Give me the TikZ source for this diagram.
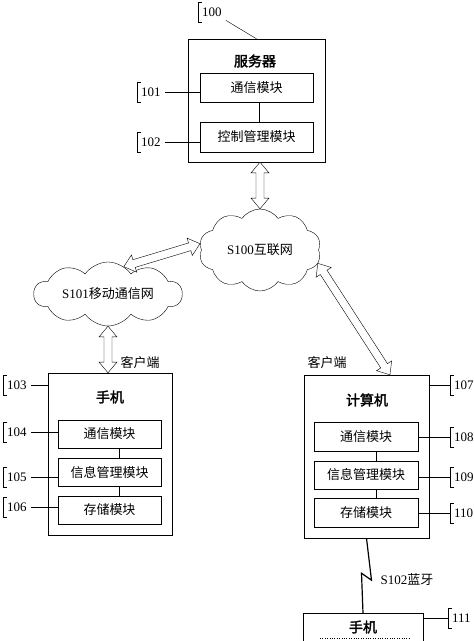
\documentclass[tikz,border=0pt]{standalone}
\usepackage{fontspec}
\setmainfont{Liberation Serif}
\newfontfamily\cjk{Noto Sans CJK SC}
\newfontfamily\cjkbold[FakeBold=2]{Noto Sans CJK SC}
\usetikzlibrary{shapes.symbols,shapes.arrows,calc}
\begin{document}
\begin{tikzpicture}[
            x=1pt, y=1pt,
            every node/.style={font=\fontsize{13}{15}\selectfont},
            cn/.style={font=\fontsize{13}{15}\selectfont\cjk},
            box/.style={draw, cn, minimum width=103pt, minimum height=28pt},
            outer/.style={draw, inner sep=0},
            boxtitle/.style={font=\fontsize{14}{16}\selectfont\cjkbold},
            tag/.style={inner xsep=4pt, inner ysep=1pt, minimum height=20pt, anchor=west},
            net/.style={cloud, draw, cloud puffs=10, cloud puff arc=110, cloud ignores aspect, inner sep=0},
            bolt/.style={line width=1.2pt, line join=miter},
            dbl/.style={to path={let \p1=($(\tikztotarget)-(\tikztostart)$),
                \n1={veclen(\x1,\y1)}, \n2={atan2(\y1,\x1)} in
                node[double arrow, draw, fill=white, inner sep=3.8pt,
                     double arrow head extend=5pt, double arrow tip angle=80,
                     minimum height=\n1, rotate=\n2]
                at ($(\tikztostart)!0.5!(\tikztotarget)$) {}}},
            ]
            \useasboundingbox (0,0) rectangle (474,-641);
            % server
            \node[outer, minimum width=137pt, minimum height=123pt] (srv) at (256.5,-100.5) {};
            \node[boxtitle] (srvt) at (255,-61) {服务器};
            \node[box, minimum width=113pt, minimum height=29pt] (srv1) at (256.5,-87.5) {通信模块};
            \node[box, minimum width=113pt, minimum height=30pt] (srv2) at (256.5,-137) {控制管理模块};
            \draw ([xshift=2.5pt]srv1.south) -- ([xshift=2.5pt]srv2.north);
            % clouds
            \node[net, minimum width=122pt, minimum height=82pt] (inet) at (260,-250) {S100{\cjk 互联网}};
            \node[net, minimum width=148pt, minimum height=64pt] (mob) at (108,-294) {S101{\cjk 移动通信网}};
            % phone
            \node[outer, minimum width=124pt, minimum height=162pt] (tel) at (110,-454) {};
            \node[boxtitle] (telt) at (110,-397) {手机};
            \node[box] (tel1) at (109.5,-434) {通信模块};
            \node[box] (tel2) at (109.5,-472.5) {信息管理模块};
            \node[box] (tel3) at (109.5,-510) {存储模块};
            \draw ([xshift=9.5pt]tel1.south) -- ([xshift=9.5pt]tel2.north);
            \draw ([xshift=9.5pt]tel2.south) -- ([xshift=9.5pt]tel3.north);
            \node[cn] (telc) at (140,-363) {客户端};
            % computer
            \node[outer, minimum width=125pt, minimum height=163pt] (pc) at (366.5,-456.5) {};
            \node[boxtitle] (pct) at (367,-400) {计算机};
            \node[box, minimum width=104pt, minimum height=29pt] (pc1) at (366,-436.5) {通信模块};
            \node[box, minimum width=104pt] (pc2) at (366,-475) {信息管理模块};
            \node[box, minimum width=104pt, minimum height=29pt] (pc3) at (366,-512.5) {存储模块};
            \draw ([xshift=10pt]pc1.south) -- ([xshift=10pt]pc2.north);
            \draw ([xshift=10pt]pc2.south) -- ([xshift=10pt]pc3.north);
            \node[cn] (pcc) at (327,-363) {客户端};
            % second phone
            \node[outer, minimum width=120pt, minimum height=60pt, anchor=north] (bt) at (363,-613) {};
            \node[boxtitle] (btt) at (363,-627) {手机};
            \draw[dotted] (320,-638) -- (410,-638);
            \draw[bolt] (pc.south) -- ++(5,-42) -- ++(-10,7) -- (bt.north);
            \node (btl) at (407,-580) {S102{\cjk 蓝牙}};
            % links
            \path (srv.south -| inet.north) to[dbl] (inet.north);
            \path (mob.60) to[dbl] (inet.174);
            \path (inet.-13) to[dbl] (pc.74);
            \path (mob.south) to[dbl] (mob.south |- tel.north);
            % tags
            \node[tag] (t100) at (198,-12) {100};
            \node[tag] (t101) at (137,-92) {101};
            \node[tag] (t102) at (137,-142) {102};
            \node[tag] (t103) at (3,-385) {103};
            \node[tag] (t104) at (3,-432) {104};
            \node[tag] (t105) at (3,-477) {105};
            \node[tag] (t106) at (3,-507) {106};
            \node[tag] (t107) at (450,-385) {107};
            \node[tag] (t108) at (450,-437) {108};
            \node[tag] (t109) at (450,-477) {109};
            \node[tag] (t110) at (450,-513) {110};
            \node[tag] (t111) at (448,-618) {111};
            \foreach \t in {t100,t101,t102,t103,t104,t105,t106,t107,t108,t109,t110,t111}
                \draw ([xshift=4pt]\t.north west) -| (\t.south west) -- ++(4pt,0);
            \draw (t100) -- (srv.north);
            \draw (t101) -- (t101 -| srv1.west);
            \draw (t102) -- (t102 -| srv2.west);
            \draw (t103) -- (t103 -| tel.west);
            \draw (t104) -- (t104 -| tel1.west);
            \draw (t105) -- (t105 -| tel2.west);
            \draw (t106) -- (t106 -| tel3.west);
            \draw (t107) -- (t107 -| pc.east);
            \draw (t108) -- (t108 -| pc1.east);
            \draw (t109) -- (t109 -| pc2.east);
            \draw (t110) -- (t110 -| pc3.east);
            \draw (t111) -- (t111 -| bt.east);
\end{tikzpicture}
\end{document}
